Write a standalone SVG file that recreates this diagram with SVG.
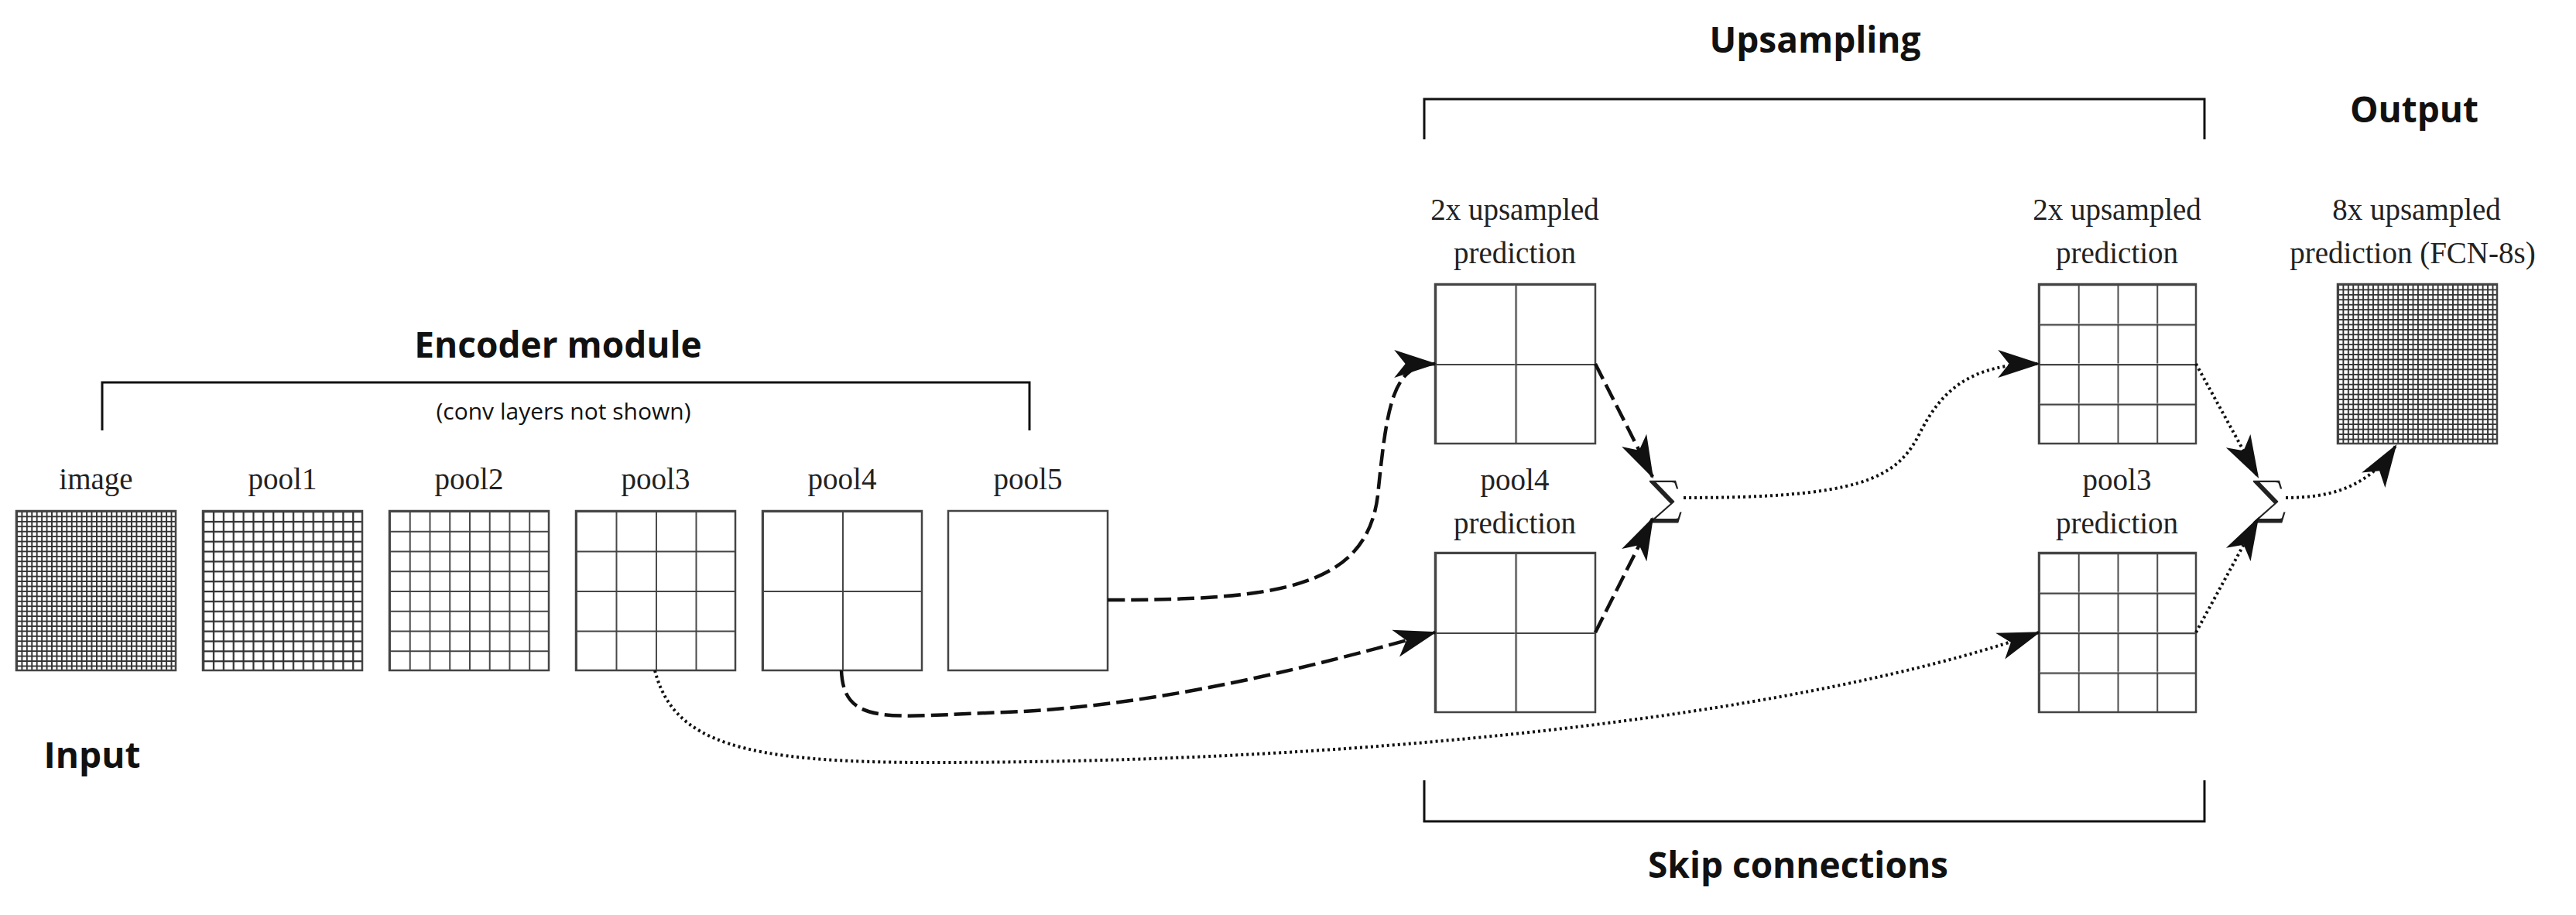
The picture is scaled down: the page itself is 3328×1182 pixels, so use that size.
<svg xmlns="http://www.w3.org/2000/svg" width="3328" height="1182" viewBox="0 0 3328 1182">
<style>
.lbl{font-family:"Liberation Serif",serif;font-size:39px;fill:#222;text-anchor:middle}
.bold{font-family:"Open Sans","Liberation Sans",sans-serif;font-weight:bold;font-size:46px;fill:#111;text-anchor:middle}
.small{font-family:"Open Sans","Liberation Sans",sans-serif;font-size:30px;fill:#111;text-anchor:middle}
.box{fill:none;stroke:#444;stroke-width:2.5}
.br{fill:none;stroke:#111;stroke-width:3}
.dash{fill:none;stroke:#111;stroke-width:4.5;stroke-dasharray:22 8}
.dot{fill:none;stroke:#111;stroke-width:4;stroke-dasharray:3 4}
.sig{font-family:"DejaVu Serif",serif;font-size:60px;fill:#222;text-anchor:middle}
</style>
<defs>
<marker id="ah" markerUnits="userSpaceOnUse" markerWidth="60" markerHeight="40" refX="44" refY="15" orient="auto" viewBox="0 0 50 30">
<path d="M0,0 L46,15 L0,30 L12,15 Z" fill="#111"/>
</marker>
<pattern id="g32" patternUnits="objectBoundingBox" width="0.03125" height="0.03125" viewBox="0 0 10 10"><path d="M0,0H10M0,0V10" stroke="#333" stroke-width="6"/></pattern>
<pattern id="g16" patternUnits="objectBoundingBox" width="0.0625" height="0.0625" viewBox="0 0 10 10"><path d="M0,0H10M0,0V10" stroke="#333" stroke-width="3.5"/></pattern>
<pattern id="g8" patternUnits="objectBoundingBox" width="0.125" height="0.125" viewBox="0 0 10 10"><path d="M0,0H10M0,0V10" stroke="#444" stroke-width="1.5"/></pattern>
<pattern id="g4" patternUnits="objectBoundingBox" width="0.25" height="0.25" viewBox="0 0 10 10"><path d="M0,0H10M0,0V10" stroke="#444" stroke-width="0.75"/></pattern>
<pattern id="g2" patternUnits="objectBoundingBox" width="0.5" height="0.5" viewBox="0 0 10 10"><path d="M0,0H10M0,0V10" stroke="#444" stroke-width="0.38"/></pattern>
</defs>
<rect width="3328" height="1182" fill="#fff"/>

<g id="titles">
<text class="bold" x="2345" y="68">Upsampling</text>
<text class="bold" x="3119" y="158">Output</text>
<text class="bold" x="721" y="462">Encoder module</text>
<text class="small" x="728" y="542">(conv layers not shown)</text>
<text class="bold" x="119" y="992">Input</text>
<text class="bold" x="2323" y="1134">Skip connections</text>
</g>
<g id="brackets">
<path class="br" d="M132,556 V494 H1330 V556"/>
<path class="br" d="M1840,180 V128 H2848 V180"/>
<path class="br" d="M1840,1008 V1061 H2848 V1008"/>
</g>

<g id="image"><text class="lbl" x="124" y="632">image</text><rect x="21" y="660" width="206" height="206" fill="url(#g32)"/><rect class="box" x="21" y="660" width="206" height="206"/></g>
<g id="pool1"><text class="lbl" x="365" y="632">pool1</text><rect x="262" y="660" width="206" height="206" fill="url(#g16)"/><rect class="box" x="262" y="660" width="206" height="206"/></g>
<g id="pool2"><text class="lbl" x="606" y="632">pool2</text><rect x="503" y="660" width="206" height="206" fill="url(#g8)"/><rect class="box" x="503" y="660" width="206" height="206"/></g>
<g id="pool3"><text class="lbl" x="847" y="632">pool3</text><rect x="744" y="660" width="206" height="206" fill="url(#g4)"/><rect class="box" x="744" y="660" width="206" height="206"/></g>
<g id="pool4"><text class="lbl" x="1088" y="632">pool4</text><rect x="985" y="660" width="206" height="206" fill="url(#g2)"/><rect class="box" x="985" y="660" width="206" height="206"/></g>
<g id="pool5"><text class="lbl" x="1328" y="632">pool5</text><rect class="box" x="1225" y="660" width="206" height="206"/></g>

<g id="up1"><text class="lbl" x="1957" y="284">2x upsampled</text><text class="lbl" x="1957" y="340">prediction</text><rect x="1854" y="367" width="207" height="206" fill="url(#g2)"/><rect class="box" x="1854" y="367" width="207" height="206"/></g>
<g id="pool4pred"><text class="lbl" x="1957" y="633">pool4</text><text class="lbl" x="1957" y="689">prediction</text><rect x="1854" y="714" width="207" height="206" fill="url(#g2)"/><rect class="box" x="1854" y="714" width="207" height="206"/></g>
<g id="up2"><text class="lbl" x="2735" y="284">2x upsampled</text><text class="lbl" x="2735" y="340">prediction</text><rect x="2634" y="367" width="203" height="206" fill="url(#g4)"/><rect class="box" x="2634" y="367" width="203" height="206"/></g>
<g id="pool3pred"><text class="lbl" x="2735" y="633">pool3</text><text class="lbl" x="2735" y="689">prediction</text><rect x="2634" y="714" width="203" height="206" fill="url(#g4)"/><rect class="box" x="2634" y="714" width="203" height="206"/></g>
<g id="output"><text class="lbl" x="3122" y="284">8x upsampled</text><text class="lbl" x="3117" y="340">prediction (FCN-8s)</text><rect x="3020" y="367" width="206" height="206" fill="url(#g32)"/><rect class="box" x="3020" y="367" width="206" height="206"/></g>
<g id="sum1"><text class="sig" x="2152" y="664">∑</text></g>
<g id="sum2"><text class="sig" x="2932" y="664">∑</text></g>

<g id="connectors">
<path class="dash" marker-end="url(#ah)" d="M1431,775 C1650,775 1765,760 1780,640 C1792,520 1800,470 1854,470"/>
<path class="dash" marker-end="url(#ah)" d="M1087,866 C1090,940 1150,925 1300,920 C1500,912 1700,860 1854,817"/>
<path class="dot" marker-end="url(#ah)" d="M846,866 C870,960 960,985 1200,985 C1900,985 2400,900 2634,817"/>
<path class="dash" marker-end="url(#ah)" d="M2061,470 L2135,616"/>
<path class="dash" marker-end="url(#ah)" d="M2061,817 L2135,670"/>
<path class="dot" marker-end="url(#ah)" d="M2175,643 C2400,643 2450,620 2480,560 C2510,500 2550,470 2634,470"/>
<path class="dot" marker-end="url(#ah)" d="M2837,470 L2917,616"/>
<path class="dot" marker-end="url(#ah)" d="M2837,817 L2917,670"/>
<path class="dot" marker-end="url(#ah)" d="M2953,643 C3010,643 3060,630 3095,576"/>
</g>
</svg>
